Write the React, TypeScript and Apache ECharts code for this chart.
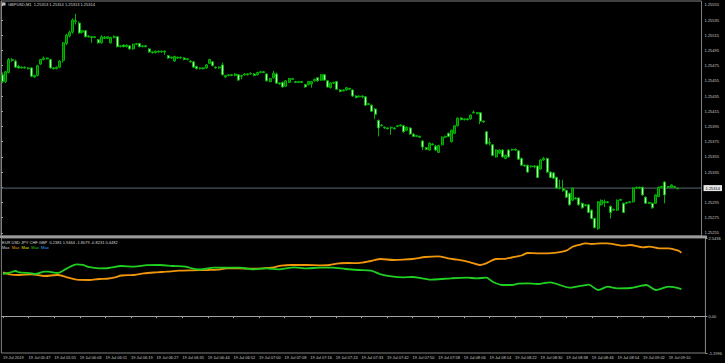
import { useEffect, useRef } from "react";
import * as echarts from "echarts";

// GBPUSD M1 candles, prices in points above 1.25000: [open, close, low, high]
const BASE = 1.25;
const POINT = 0.00001;
const ohlcPoints: number[][] = [
  [463,454,452,466],[454,467,452,468],[466,483,465,485],[483,482,480,485],[481,473,472,483],
  [474,472,471,476],[472,473,471,474],[473,472,471,474],[472,471,470,473],[472,461,460,473],
  [460,462,459,463],[462,475,461,476],[477,483,476,484],[483,485,482,487],[485,484,483,486],
  [483,472,471,484],[472,471,470,473],[471,473,470,474],[473,481,472,482],[482,505,479,506],
  [504,515,502,517],[514,519,512,521],[519,535,517,537],[533,534,529,543],[531,518,517,533],
  [519,521,517,522],[521,513,512,522],[514,513,512,515],[513,512,505,514],[512,513,511,514],
  [509,505,504,510],[505,513,504,515],[512,511,510,514],[511,513,510,514],[505,512,504,513],
  [512,513,511,515],[513,500,499,514],[500,501,499,502],[502,500,499,503],[500,502,499,503],
  [501,497,496,502],[497,503,496,504],[503,504,502,505],[504,500,499,505],[500,501,499,502],
  [501,500,499,502],[497,493,492,498],[493,492,491,494],[492,494,491,495],[494,493,492,495],
  [493,494,492,495],[494,493,489,495],[488,485,484,489],[485,486,484,487],[481,487,480,488],
  [486,485,484,487],[485,486,484,487],[485,483,482,486],[483,484,482,485],[481,480,479,482],
  [480,473,472,481],[474,471,470,475],[471,472,470,473],[472,471,470,473],[472,476,471,477],
  [478,483,477,484],[480,475,474,481],[473,472,471,474],[472,473,471,474],[476,463,462,479],
  [460,462,459,463],[462,463,461,464],[463,462,461,464],[462,464,461,465],[463,456,455,464],
  [461,462,457,463],[463,464,462,465],[464,463,462,465],[464,465,463,466],[464,462,461,465],
  [463,466,462,467],[466,467,465,468],[467,466,465,468],[464,455,454,465],[454,458,453,459],
  [459,465,458,468],[464,452,451,466],[452,451,450,453],[453,447,446,454],[448,455,447,456],
  [453,458,452,459],[457,458,456,459],[454,453,452,455],[453,454,452,455],[454,453,452,455],
  [450,447,446,451],[450,454,449,455],[451,454,446,455],[455,457,454,458],[459,455,454,460],
  [456,463,455,464],[463,456,455,464],[455,447,446,456],[446,452,445,453],[452,453,451,454],
  [454,444,443,455],[443,441,440,444],[442,443,441,444],[443,446,442,447],[445,444,443,446],
  [443,435,434,444],[435,433,432,436],[434,435,433,436],[435,434,432,436],[434,423,422,435],
  [424,425,423,426],[423,415,414,424],[418,411,405,419],[403,393,382,404],[396,397,395,398],
  [394,393,392,395],[393,392,391,394],[393,394,384,395],[393,392,391,394],[395,396,394,397],
  [396,397,395,398],[396,388,387,397],[390,394,389,395],[393,385,384,394],[385,382,381,386],
  [382,383,381,384],[382,381,380,383],[376,368,364,377],[367,365,364,368],[364,373,363,374],
  [372,371,370,373],[369,364,363,371],[361,370,360,371],[371,381,370,382],[381,382,380,383],
  [386,382,381,387],[375,390,374,391],[386,396,385,397],[396,406,395,407],[406,404,403,407],
  [404,405,403,406],[405,404,403,406],[405,410,404,411],[413,414,412,416],[413,412,411,414],
  [413,402,398,414],[402,401,400,403],[388,372,371,389],[373,374,370,380],[371,357,356,372],
  [355,364,354,365],[360,364,359,365],[364,355,354,365],[353,357,352,358],[364,355,354,365],
  [364,365,363,366],[365,364,363,366],[363,352,351,364],[353,344,343,354],[344,343,342,345],
  [344,335,334,345],[342,343,341,344],[343,342,340,344],[343,328,327,344],[339,351,338,352],
  [351,353,350,355],[353,335,334,354],[335,328,327,336],[334,327,326,335],[328,314,313,329],
  [314,315,312,325],[313,311,309,325],[311,302,301,312],[307,292,291,308],[298,314,297,315],
  [301,300,299,302],[301,292,291,302],[294,288,287,295],[291,292,290,293],[292,282,281,293],
  [285,274,273,286],[274,262,261,275],[261,296,259,297],[292,298,291,299],[296,295,289,299],
  [295,296,294,297],[290,282,274,291],[285,286,284,287],[285,298,284,299],[298,299,297,300],
  [294,282,281,295],[294,295,293,296],[295,296,294,297],[296,314,295,315],[314,315,313,316],
  [315,314,313,316],[315,305,304,316],[302,294,293,303],[294,295,293,296],[294,288,287,295],
  [294,305,293,306],[303,315,302,316],[315,316,314,317],[322,305,294,323],[315,316,314,317],
  [315,318,314,319],[316,315,314,317],[313,314,313,314],
];

const timeLabels = [
  "19 Jul 2019", "19 Jul 05:47", "19 Jul 05:55", "19 Jul 06:03", "19 Jul 06:11", "19 Jul 06:19",
  "19 Jul 06:27", "19 Jul 06:35", "19 Jul 06:44", "19 Jul 06:52", "19 Jul 07:00", "19 Jul 07:08",
  "19 Jul 07:16", "19 Jul 07:24", "19 Jul 07:33", "19 Jul 07:42", "19 Jul 07:50", "19 Jul 07:58",
  "19 Jul 08:06", "19 Jul 08:14", "19 Jul 08:22", "19 Jul 08:30", "19 Jul 08:38", "19 Jul 08:46",
  "19 Jul 08:54", "19 Jul 09:02", "19 Jul 09:10",
];

const priceTicks = [
  1.25255, 1.25275, 1.25295, 1.25315, 1.25335, 1.25355, 1.25375, 1.25395,
  1.25415, 1.25435, 1.25455, 1.25475, 1.25495, 1.25515, 1.25535, 1.25555,
];

// indicator lines: [bar index, value]
const orangeLine: number[][] = [
  [0,1.427],[2,1.362],[5,1.339],[9,1.362],[13,1.307],[17,1.339],[20,1.265],[23,1.186],[27,1.176],
  [30,1.209],[33,1.225],[35,1.265],[37,1.323],[41,1.339],[44,1.394],[48,1.427],[51,1.446],[55,1.479],
  [59,1.492],[64,1.502],[67,1.511],[70,1.557],[74,1.557],[77,1.544],[81,1.557],[84,1.577],[87,1.642],
  [90,1.665],[95,1.665],[99,1.655],[102,1.665],[105,1.72],[108,1.73],[111,1.724],[115,1.795],[118,1.86],
  [122,1.828],[125,1.837],[128,1.86],[132,1.925],[136,1.948],[139,1.883],[142,1.837],[146,1.753],
  [149,1.665],[151,1.72],[154,1.86],[157,1.867],[159,1.909],[162,1.974],[164,2.055],[167,2.045],
  [170,2.045],[173,2.065],[176,2.13],[178,2.26],[180,2.316],[182,2.371],[184,2.348],[187,2.371],
  [189,2.371],[191,2.339],[194,2.293],[196,2.316],[200,2.241],[202,2.261],[205,2.208],[208,2.208],
  [211,2.13],[212,2.065],
];
const greenLine: number[][] = [
  [0,1.372],[2,1.415],[4,1.469],[5,1.427],[9,1.394],[10,1.372],[13,1.446],[14,1.446],[17,1.404],
  [20,1.557],[23,1.687],[25,1.665],[27,1.593],[30,1.557],[33,1.567],[37,1.632],[41,1.61],[45,1.658],
  [49,1.665],[53,1.632],[57,1.61],[61,1.518],[66,1.577],[70,1.577],[74,1.577],[78,1.525],[82,1.557],
  [86,1.525],[91,1.59],[95,1.557],[99,1.577],[103,1.577],[107,1.534],[111,1.502],[115,1.479],
  [118,1.362],[122,1.284],[125,1.265],[128,1.274],[131,1.232],[134,1.186],[137,1.209],[140,1.232],
  [145,1.251],[148,1.232],[151,1.251],[153,1.121],[156,1.014],[159,1.014],[161,1.056],[164,1.069],
  [167,1.046],[171,1.101],[174,1.014],[177,0.926],[181,0.991],[183,1.023],[186,0.851],[189,0.958],
  [192,0.906],[196,0.916],[201,1.014],[204,0.851],[208,0.958],[212,0.883],
];
const indicatorTicks = [-1.1996, 0, 2.5436];
const currencies = ["EUR", "USD", "JPY", "CHF", "GBP"];
const strengths = [0.2381, 1.9464, -1.8079, -0.8231, 0.4482];
const legendColors = ["#d0d0d0", "#f0960a", "#e0e000", "#20d020", "#40a0ff"];

const SLOTS = 220;
const FONT = "Liberation Sans";
const PRICE_MIN = 1.25251;
const PRICE_MAX = 1.2556;

export default function App() {
  const ref = useRef<HTMLDivElement>(null);
  useEffect(() => {
    document.body.style.margin = "0";
    document.body.style.background = "#000";
    const chart = echarts.init(ref.current!, null, { renderer: "svg" });
    const cats = Array.from({ length: SLOTS }, (_, i) => String(i));
    const candles = ohlcPoints.map((r) => r.map((v) => +(BASE + v * POINT).toFixed(5)));
    const lastIndex = candles.length - 1;
    const last = candles[lastIndex];
    const lastPrice = last[1];
    const header = `GBPUSD,M1  ${last[0].toFixed(5)} ${last[3].toFixed(5)} ${last[2].toFixed(5)} ${last[1].toFixed(5)}`;
    const indHeader = `${currencies.join(" ")}  ${strengths.map((v) => v.toFixed(4)).join(" ")}`;
    const rich: Record<string, any> = {};
    legendColors.forEach((c, i) => {
      rich["c" + i] = { fill: c, fontSize: 4, fontFamily: FONT };
    });
    const maxText = legendColors.map((_, i) => `{c${i}|Max}`).join("  ");
    const labelInterval = (i: number) => i % 8 === 0;

    chart.setOption({
      animation: false,
      backgroundColor: "#000",
      textStyle: { fontFamily: FONT },
      grid: [
        { left: 1, right: 18, top: 1, height: 235, show: true, borderColor: "#808080", borderWidth: 1 },
        { left: 1, right: 18, top: 238, height: 115, show: true, borderColor: "#808080", borderWidth: 1 },
      ],
      xAxis: [
        { type: "category", gridIndex: 0, data: cats, boundaryGap: true, show: false },
        {
          type: "category", gridIndex: 1, data: cats, boundaryGap: true,
          axisLine: { show: true, lineStyle: { color: "#a0a0a0", width: 1 } },
          axisTick: { show: true, interval: labelInterval, alignWithLabel: true, length: 2, lineStyle: { color: "#a0a0a0" } },
          axisLabel: {
            interval: labelInterval,
            formatter: (_v: string, i: number) => timeLabels[i / 8] ?? "",
            align: "left", color: "#c8c8c8", fontSize: 4, margin: 2, fontFamily: FONT,
          },
          splitLine: { show: false },
        },
        { type: "value", gridIndex: 0, min: 0, max: 1, show: false },
      ],
      yAxis: [
        {
          type: "value", gridIndex: 0, position: "right", min: PRICE_MIN, max: PRICE_MAX,
          axisLine: { show: true, lineStyle: { color: "#808080" } },
          axisTick: { show: true, length: 2, customValues: priceTicks, lineStyle: { color: "#a0a0a0" } },
          axisLabel: {
            customValues: priceTicks, formatter: (v: number) => v.toFixed(5),
            color: "#c8c8c8", fontSize: 4, margin: 3, fontFamily: FONT,
          },
          splitLine: { show: false },
        },
        {
          type: "value", gridIndex: 1, position: "right", min: -1.1996, max: 2.5436,
          axisLine: { show: true, lineStyle: { color: "#808080" } },
          axisTick: { show: true, length: 2, customValues: indicatorTicks, lineStyle: { color: "#a0a0a0" } },
          axisLabel: {
            customValues: indicatorTicks,
            formatter: (v: number) => (v === 0 ? "0.00" : v.toFixed(4)),
            color: "#c8c8c8", fontSize: 4, margin: 3, fontFamily: FONT,
          },
          splitLine: { show: false },
        },
        {
          type: "value", gridIndex: 0, position: "right", min: PRICE_MIN, max: PRICE_MAX, offset: 0,
          axisLine: { show: false }, axisTick: { show: false }, splitLine: { show: false },
          axisLabel: {
            customValues: [lastPrice], formatter: (v: number) => v.toFixed(5),
            color: "#000", backgroundColor: "#e6e6e6", padding: [1, 2], fontSize: 4, margin: 2, fontFamily: FONT,
          },
          z: 10,
        },
      ],
      graphic: [
        { type: "rect", shape: { x: 0, y: 235.5, width: 707, height: 2.5 }, style: { fill: "#9a9a9a" }, z: 100 },
        { type: "polygon", shape: { points: [[2, 2.5], [5.5, 2.5], [5.5, 5.5], [2, 5.5]] }, style: { fill: "#c0c0c0" }, z: 100 },
        { type: "text", x: 8, y: 2, style: { text: header, fill: "#d8d8d8", fontSize: 4, fontFamily: FONT }, z: 100 },
        { type: "text", x: 2, y: 240, style: { text: indHeader, fill: "#d8d8d8", fontSize: 4, fontFamily: FONT }, z: 100 },
        { type: "text", x: 2, y: 245, style: { text: maxText, rich, fontSize: 4, fontFamily: FONT }, z: 100 },
      ],
      series: [
        {
          type: "line", xAxisIndex: 2, yAxisIndex: 0, data: [[0, lastPrice], [1, lastPrice]],
          showSymbol: false, silent: true, z: 1,
          lineStyle: { color: "#5a6a74", width: 1 },
        },
        {
          type: "candlestick", xAxisIndex: 0, yAxisIndex: 0, data: candles, barWidth: 2.5, z: 3,
          itemStyle: { color: "#006a00", color0: "#c4f2c4", borderColor: "#00b400", borderColor0: "#00b400", borderWidth: 1 },
        },
        {
          type: "line", xAxisIndex: 1, yAxisIndex: 1, data: orangeLine, showSymbol: false, smooth: 0.3,
          lineStyle: { color: "#f0960a", width: 1.8 },
        },
        {
          type: "line", xAxisIndex: 1, yAxisIndex: 1, data: greenLine, showSymbol: false, smooth: 0.3,
          lineStyle: { color: "#20d020", width: 1.8 },
        },
      ],
    });
    return () => chart.dispose();
  }, []);
  return <div ref={ref} style={{ width: 725, height: 363, background: "#000" }} />;
}
